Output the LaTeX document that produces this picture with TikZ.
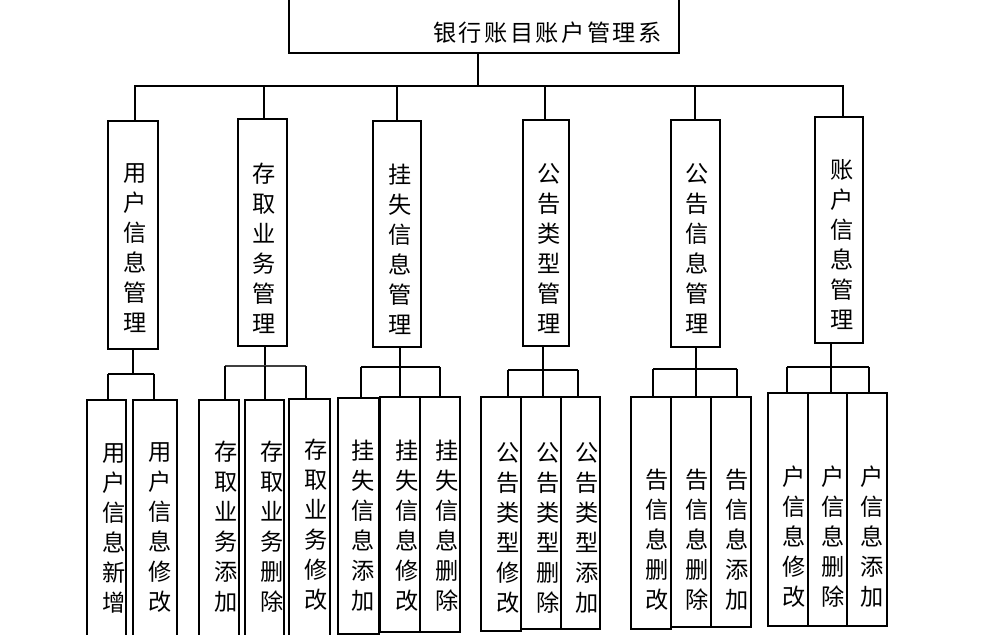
\documentclass[tikz,border=0pt]{standalone}
\usepackage{fontspec}
\newfontfamily\cjk{Noto Sans CJK SC}
\usetikzlibrary{positioning}
\tikzset{
  box/.style={rectangle,draw,line width=1pt,inner sep=0pt},
  vtxt/.style={font=\cjk\fontsize{11.6}{15}\selectfont,align=center,inner sep=0pt},
  link/.style={line width=1pt},
  thinlink/.style={line width=0.6pt,black!75}
}
\newcommand{\tch}[1]{\makebox[12.85pt]{#1}}

\begin{document}
\begin{tikzpicture}[x=0.5pt,y=-0.5pt]
    \clip (0,0) rectangle (1007,635);

    % Title
    \node[box,minimum width=195pt,minimum height=40pt] (title) at (484,13) {};
    \node[font=\cjk\fontsize{11.6}{13}\selectfont,inner sep=0pt] (title-txt) at (547.5,33)
      {\tch{银}\tch{行}\tch{账}\tch{目}\tch{账}\tch{户}\tch{管}\tch{理}\tch{系}};
    \coordinate (bus) at (478,86);
    \draw[link] (title.south -| bus) -- (bus);

    % Modules
    \foreach \n/\l/\r/\t/\b/\sx/\tx/\ty/\txt in {
      t1/108/158/121/349/135/135/248/{用\\户\\信\\息\\管\\理},
      t2/238/287/119/346/264/264/248/{存\\取\\业\\务\\管\\理},
      t3/373/421/121/347/397/400/249/{挂\\失\\信\\息\\管\\理},
      t4/523/569/120/346/545/549/249/{公\\告\\类\\型\\管\\理},
      t5/671/720/120/347/695/697/249/{公\\告\\信\\息\\管\\理},
      t6/815/863/117/343/843/842/245/{账\\户\\信\\息\\管\\理}} {
        \node[box,minimum width={(\r-\l)*0.5pt},minimum height={(\b-\t)*0.5pt}] (\n) at ({(\l+\r)/2},{(\t+\b)/2}) {};
        \node[vtxt] (\n-txt) at (\tx,\ty) {\txt};
        \draw[link] (\n.north -| \sx,0) |- (bus);
    }

    % Junctions below the modules
    \foreach \p/\jx/\jy/\hl/\hr/\hs in {
      t1/133/374/108/154/link, t2/265/366/225/306/thinlink,
      t3/400/367/361/440/link, t4/543/370/508/578/link,
      t5/696/369/653/737/link, t6/831/367/787/869/link} {
        \coordinate (\p-j) at (\jx,\jy);
        \draw[link] (\p.south -| \p-j) -- (\p-j);
        \draw[\hs] (\p-j -| \hl,0) -- (\p-j -| \hr,0);
    }

    % Functions
    \foreach \n/\p/\l/\r/\t/\b/\sx/\tx/\ty/\txt in {
      l1a/t1/87/126/400/650/108/114/528/{用\\户\\信\\息\\新\\增},
      l1b/t1/133/177/400/650/154/160/528/{用\\户\\信\\息\\修\\改},
      l2a/t2/199/239/400/650/225/226/527/{存\\取\\业\\务\\添\\加},
      l2b/t2/245/284/400/650/265/272/527/{存\\取\\业\\务\\删\\除},
      l2c/t2/289/330/399/650/306/316/525/{存\\取\\业\\务\\修\\改},
      l3a/t3/338/379/398/634/361/363/526/{挂\\失\\信\\息\\添\\加},
      l3b/t3/380/420/397/632/400/407/526/{挂\\失\\信\\息\\修\\改},
      l3c/t3/420/460/397/632/440/447/526/{挂\\失\\信\\息\\删\\除},
      l4a/t4/481/521/397/631/508/508/528/{公\\告\\类\\型\\修\\改},
      l4b/t4/521/561/397/629/543/548/528/{公\\告\\类\\型\\删\\除},
      l4c/t4/561/600/397/629/578/587/528/{公\\告\\类\\型\\添\\加},
      l5a/t5/631/671/397/629/653/657/540/{告\\信\\息\\删\\改},
      l5b/t5/671/711/397/627/696/697/540/{告\\信\\息\\删\\除},
      l5c/t5/711/751/397/627/737/737/540/{告\\信\\息\\添\\加},
      l6a/t6/768/808/393/626/787/794/537/{户\\信\\息\\修\\改},
      l6b/t6/808/847/393/626/831/833/537/{户\\信\\息\\删\\除},
      l6c/t6/847/887/393/626/869/872/537/{户\\信\\息\\添\\加}} {
        \node[box,minimum width={(\r-\l)*0.5pt},minimum height={(\b-\t)*0.5pt}] (\n) at ({(\l+\r)/2},{(\t+\b)/2}) {};
        \node[vtxt] (\n-txt) at (\tx,\ty) {\txt};
        \draw[link] (\n.north -| \sx,0) -- (\p-j -| \sx,0);
    }

\end{tikzpicture}
\end{document}
